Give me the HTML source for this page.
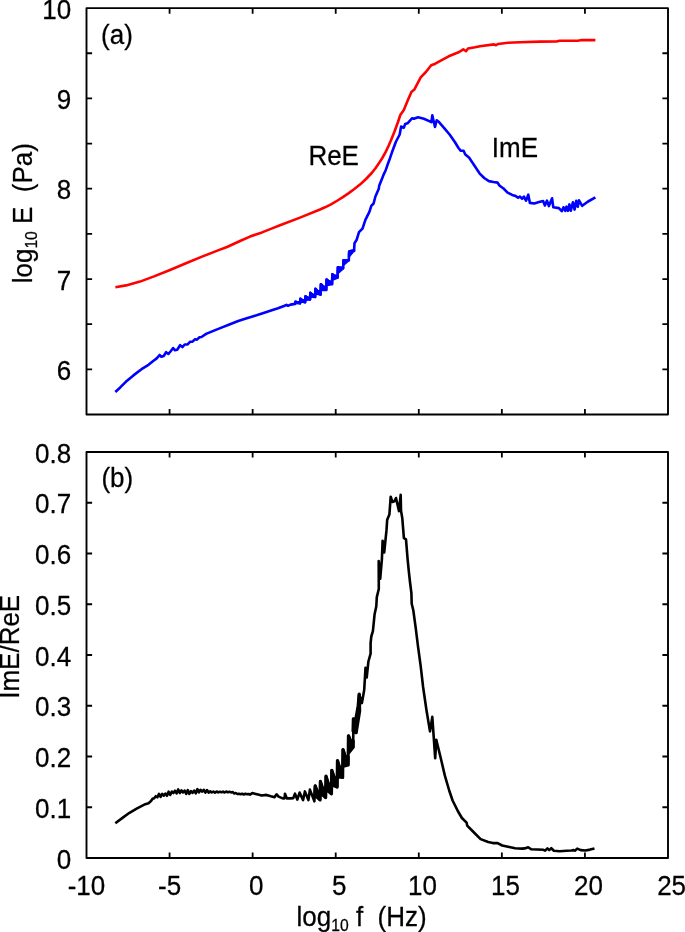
<!DOCTYPE html>
<html><head><meta charset="utf-8"><title>Viscoelastic modulus</title>
<style>
html,body{margin:0;padding:0;background:#fff;}
body{width:685px;height:932px;overflow:hidden;}
svg{display:block;}
text{font-family:"Liberation Sans",Arial,Helvetica,sans-serif;font-size:26px;fill:#000;stroke:#000;stroke-width:0.25px;}
.ax{fill:none;stroke:#000;stroke-width:1.9;stroke-linejoin:round;}
.tk{stroke:#000;stroke-width:1.8;fill:none;}
.sub{font-size:15.7px;}
.cv{fill:none;stroke-width:2.6;stroke-linejoin:round;stroke-linecap:butt;}
</style></head><body>
<svg width="685" height="932" viewBox="0 0 685 932">
<rect width="685" height="932" fill="#fff"/>
<path class="tk" d="M169.57 8.1v5.6M169.57 414.5v-5.6M169.57 452.0v5.6M169.57 858.0v-5.6M252.64 8.1v5.6M252.64 414.5v-5.6M252.64 452.0v5.6M252.64 858.0v-5.6M335.71 8.1v5.6M335.71 414.5v-5.6M335.71 452.0v5.6M335.71 858.0v-5.6M418.79 8.1v5.6M418.79 414.5v-5.6M418.79 452.0v5.6M418.79 858.0v-5.6M501.86 8.1v5.6M501.86 414.5v-5.6M501.86 452.0v5.6M501.86 858.0v-5.6M584.93 8.1v5.6M584.93 414.5v-5.6M584.93 452.0v5.6M584.93 858.0v-5.6M86.5 369.34h5.6M668.0 369.34h-5.6M86.5 324.19h5.6M668.0 324.19h-5.6M86.5 279.03h5.6M668.0 279.03h-5.6M86.5 233.88h5.6M668.0 233.88h-5.6M86.5 188.72h5.6M668.0 188.72h-5.6M86.5 143.57h5.6M668.0 143.57h-5.6M86.5 98.41h5.6M668.0 98.41h-5.6M86.5 53.26h5.6M668.0 53.26h-5.6M86.5 807.25h5.6M668.0 807.25h-5.6M86.5 756.50h5.6M668.0 756.50h-5.6M86.5 705.75h5.6M668.0 705.75h-5.6M86.5 655.00h5.6M668.0 655.00h-5.6M86.5 604.25h5.6M668.0 604.25h-5.6M86.5 553.50h5.6M668.0 553.50h-5.6M86.5 502.75h5.6M668.0 502.75h-5.6"/>
<rect class="ax" x="86.5" y="8.1" width="581.5" height="406.4"/>
<rect class="ax" x="86.5" y="452.0" width="581.5" height="406.0"/>
<text transform="translate(71.20 380.04) scale(1 1.06)" text-anchor="end">6</text>
<text transform="translate(71.20 289.73) scale(1 1.06)" text-anchor="end">7</text>
<text transform="translate(71.20 199.42) scale(1 1.06)" text-anchor="end">8</text>
<text transform="translate(71.20 109.11) scale(1 1.06)" text-anchor="end">9</text>
<text transform="translate(71.20 18.80) scale(1 1.06)" text-anchor="end">10</text>
<text transform="translate(71.20 868.70) scale(1 1.06)" text-anchor="end">0</text>
<text transform="translate(71.20 817.95) scale(1 1.06)" text-anchor="end">0.1</text>
<text transform="translate(71.20 767.20) scale(1 1.06)" text-anchor="end">0.2</text>
<text transform="translate(71.20 716.45) scale(1 1.06)" text-anchor="end">0.3</text>
<text transform="translate(71.20 665.70) scale(1 1.06)" text-anchor="end">0.4</text>
<text transform="translate(71.20 614.95) scale(1 1.06)" text-anchor="end">0.5</text>
<text transform="translate(71.20 564.20) scale(1 1.06)" text-anchor="end">0.6</text>
<text transform="translate(71.20 513.45) scale(1 1.06)" text-anchor="end">0.7</text>
<text transform="translate(71.20 462.70) scale(1 1.06)" text-anchor="end">0.8</text>
<text transform="translate(86.50 895.20) scale(1 1.06)" text-anchor="middle">-10</text>
<text transform="translate(169.57 895.20) scale(1 1.06)" text-anchor="middle">-5</text>
<text transform="translate(256.24 895.20) scale(1 1.06)" text-anchor="middle">0</text>
<text transform="translate(339.31 895.20) scale(1 1.06)" text-anchor="middle">5</text>
<text transform="translate(422.39 895.20) scale(1 1.06)" text-anchor="middle">10</text>
<text transform="translate(505.46 895.20) scale(1 1.06)" text-anchor="middle">15</text>
<text transform="translate(588.53 895.20) scale(1 1.06)" text-anchor="middle">20</text>
<text transform="translate(671.60 895.20) scale(1 1.06)" text-anchor="middle">25</text>
<text transform="translate(296.60 925.70) scale(1 1.06)">log<tspan class="sub" dy="5.28">10</tspan><tspan dy="-5.28" dx="7.2">f</tspan><tspan dx="14.4">(Hz)</tspan></text>
<text transform="translate(31.60 283.30) rotate(-90) scale(1 1.06)">log<tspan class="sub" dy="5.28">10</tspan><tspan dy="-5.28" dx="7.2">E</tspan><tspan dx="14.4">(Pa)</tspan></text>
<text transform="translate(18.80 698.80) rotate(-90) scale(1 1.06)">ImE/ReE</text>
<text transform="translate(101.10 44.10) scale(1 1.06)">(a)</text>
<text transform="translate(101.40 486.50) scale(1 1.06)">(b)</text>
<text transform="translate(308.40 164.70) scale(1 1.06)">ReE</text>
<text transform="translate(491.80 157.20) scale(1 1.06)">ImE</text>
<path class="cv" stroke="#0000ff" d="M115.3 392.0 L120.5 387.2 L125.8 381.8 L133.4 375.4 L141.5 369.2 L148.5 364.8 L153.2 361.0 L156.7 358.4 L159.6 355.0 L161.3 356.8 L163.7 356.0 L166.1 352.2 L168.4 354.0 L170.5 351.5 L173.1 348.0 L175.0 350.3 L177.2 349.8 L180.1 345.2 L182.4 347.1 L184.7 344.5 L187.6 344.4 L190.0 341.8 L192.5 341.6 L195.0 339.3 L197.0 339.6 L199.5 337.3 L201.5 337.0 L206.1 333.9 L214.0 330.6 L222.1 327.4 L230.0 324.2 L238.2 321.0 L246.0 318.5 L254.2 316.0 L262.0 313.5 L270.3 310.8 L278.0 308.3 L284.0 306.0 L286.5 304.8 L288.0 305.8 L290.5 304.6 L295.1 303.9 L295.5 301.7 L300.0 303.3 L300.4 298.8 L305.1 302.2 L305.5 296.4 L310.0 299.4 L310.4 292.9 L315.1 296.9 L315.5 288.8 L320.5 294.6 L320.9 284.2 L326.2 289.9 L326.6 279.6 L332.0 284.1 L332.4 274.3 L337.5 277.6 L337.9 267.2 L343.1 268.3 L343.5 260.4 L348.8 260.1 L349.2 251.5 L354.1 250.2 L354.5 243.3 L356.7 239.7 L359.0 232.2 L362.5 228.6 L365.4 219.9 L369.5 211.7 L371.3 205.9 L373.6 203.5 L375.4 196.5 L378.9 188.4 L379.1 186.0 L382.4 177.8 L383.5 174.9 L385.9 169.7 L388.0 163.5 L390.0 158.2 L391.8 152.8 L395.8 142.0 L399.7 134.5 L401.1 126.5 L403.8 127.8 L405.2 124.0 L407.5 123.3 L412.2 118.2 L413.9 118.8 L418.0 117.3 L423.9 118.7 L430.3 121.6 L431.4 122.2 L432.3 115.4 L433.8 122.0 L435.0 126.9 L436.7 120.3 L439.0 122.1 L444.0 127.8 L449.6 134.5 L455.0 142.3 L458.5 148.0 L460.6 150.6 L463.6 150.8 L465.3 154.5 L469.0 157.5 L473.7 164.5 L479.5 173.3 L484.2 178.0 L488.9 181.1 L493.5 182.0 L497.6 182.6 L499.4 185.5 L503.5 188.5 L507.6 192.6 L512.2 194.9 L515.7 196.1 L518.1 197.8 L519.8 196.6 L522.2 198.7 L523.9 196.6 L526.0 200.7 L528.3 194.7 L529.9 202.9 L534.3 203.5 L539.0 202.0 L543.1 201.1 L544.9 205.5 L547.0 200.6 L548.9 206.1 L552.1 198.3 L553.3 207.3 L558.9 208.1 L561.8 211.2 L563.5 207.3 L565.3 210.8 L566.5 206.7 L568.0 210.8 L569.4 204.4 L570.8 210.8 L572.9 202.3 L574.6 209.6 L576.2 200.9 L577.8 206.7 L579.0 200.3 L582.2 205.8 L588.1 201.5 L595.4 197.4"/>
<path class="cv" stroke="#ff0000" d="M115.4 287.3 L126.0 285.4 L140.0 281.6 L154.0 276.4 L170.0 270.0 L186.0 263.2 L202.0 256.6 L218.0 250.4 L227.0 247.0 L240.0 241.0 L250.0 236.6 L262.0 232.4 L274.0 227.6 L280.0 225.2 L300.0 217.6 L320.0 209.5 L325.0 207.3 L331.0 204.4 L336.7 201.0 L342.5 197.4 L348.4 193.4 L354.0 189.3 L360.0 184.6 L366.0 179.0 L371.7 173.0 L375.3 168.5 L378.7 163.6 L382.3 158.0 L385.7 151.9 L388.5 146.0 L391.0 140.3 L394.5 131.5 L398.0 122.0 L400.3 115.0 L403.8 110.0 L407.5 101.0 L411.4 92.0 L414.3 89.6 L420.7 77.4 L425.9 72.0 L431.2 65.2 L435.3 63.7 L441.7 60.2 L448.7 56.3 L459.2 52.0 L463.3 49.3 L466.0 51.2 L468.0 48.5 L475.0 47.3 L480.0 46.3 L494.0 44.4 L496.0 45.2 L498.0 44.0 L508.0 42.8 L520.0 42.2 L540.0 41.6 L556.5 41.5 L559.5 40.8 L578.0 40.8 L581.5 40.1 L595.4 40.1"/>
<path class="cv" stroke="#000000" d="M115.3 823.3 L122.8 817.6 L129.5 812.8 L137.1 808.3 L145.3 804.2 L148.5 803.2 L151.0 801.1 L152.6 798.8 L154.2 798.2 L155.8 796.2 L157.4 797.3 L159.0 793.9 L160.6 797.0 L162.2 793.9 L163.8 795.7 L165.4 793.5 L167.0 795.8 L168.6 791.7 L170.2 795.0 L171.8 791.6 L173.4 793.0 L175.0 790.7 L176.6 793.4 L178.2 789.4 L179.8 793.1 L181.4 790.3 L183.0 792.5 L184.6 790.6 L186.2 793.9 L187.8 790.1 L189.4 793.9 L191.0 791.1 L192.6 792.9 L194.2 790.5 L195.8 793.3 L197.4 789.2 L199.0 792.4 L200.6 789.8 L202.2 791.6 L203.8 789.8 L205.4 792.6 L207.0 790.0 L208.6 792.6 L210.2 791.4 L211.8 792.4 L213.4 791.6 L215.0 792.6 L216.6 791.5 L218.2 792.4 L219.8 791.8 L221.4 792.2 L223.0 791.6 L224.6 792.5 L226.2 791.5 L227.8 792.3 L229.4 791.8 L231.0 792.4 L232.6 792.0 L234.2 793.4 L235.8 793.0 L237.4 794.0 L239.0 793.8 L240.6 794.3 L242.2 793.8 L243.8 794.5 L245.4 793.8 L247.0 794.3 L248.6 794.0 L250.0 794.6 L252.3 793.1 L257.0 794.3 L261.7 795.5 L266.4 794.9 L271.0 796.3 L274.5 797.2 L276.6 794.3 L278.6 796.6 L282.7 798.4 L284.5 798.4 L285.0 793.7 L286.8 798.4 L290.9 798.4 L293.2 798.2 L295.0 793.7 L297.3 799.6 L299.6 792.6 L303.1 800.1 L304.9 791.4 L308.4 800.1 L309.9 789.6 L314.4 801.3 L315.2 785.8 L320.0 799.9 L320.4 781.5 L325.6 797.5 L326.0 776.2 L331.4 793.8 L331.8 770.3 L337.1 787.0 L337.5 760.7 L342.6 777.4 L343.0 749.6 L348.1 764.9 L348.5 735.8 L353.1 747.2 L353.5 718.9 L356.1 732.7 L357.6 716.0 L359.2 694.2 L361.9 703.1 L364.2 690.0 L364.8 679.9 L365.5 667.7 L366.7 677.5 L368.4 661.5 L370.6 653.6 L370.6 643.1 L371.3 636.5 L372.9 631.2 L374.6 614.2 L376.3 606.3 L376.8 597.1 L378.8 589.0 L378.7 561.1 L380.2 578.8 L381.9 559.1 L382.6 540.7 L384.2 552.5 L386.5 530.2 L387.2 519.7 L389.4 514.4 L390.7 496.7 L392.4 501.9 L394.4 501.3 L396.0 498.0 L399.0 511.1 L400.7 494.7 L401.0 510.5 L402.3 518.4 L403.9 538.1 L406.0 539.4 L407.6 559.1 L408.9 572.2 L410.0 582.0 L411.4 593.1 L411.7 603.7 L413.3 610.2 L415.8 628.6 L417.9 645.7 L420.6 665.4 L423.1 687.0 L426.4 709.7 L430.0 731.4 L432.3 716.9 L435.2 758.1 L436.3 739.9 L440.2 755.7 L444.8 775.4 L449.2 790.5 L452.6 800.5 L457.8 811.0 L461.9 818.0 L466.6 822.7 L467.2 825.6 L473.0 831.5 L480.6 839.1 L488.2 842.0 L492.9 843.1 L497.6 843.1 L502.2 845.5 L509.2 846.9 L515.1 848.2 L522.1 848.6 L524.7 848.4 L528.2 847.2 L531.1 849.3 L543.4 849.8 L545.1 850.7 L547.4 848.4 L549.2 850.1 L551.3 848.2 L553.9 850.7 L559.7 851.3 L566.7 850.7 L571.4 850.5 L573.7 850.1 L574.9 850.7 L577.2 848.6 L580.7 850.1 L585.4 850.5 L590.1 849.6 L594.5 848.4"/>
<path fill="#0000ff" stroke="#0000ff" stroke-width="2.6" stroke-linejoin="round" d="M295.3 302.9 L295.5 301.7 L297.5 302.4 L300.1 302.4 L300.0 303.3ZM300.2 301.3 L300.4 298.8 L302.5 300.3 L305.2 300.3 L305.1 302.2ZM305.3 299.6 L305.5 296.4 L307.5 297.8 L310.1 297.8 L310.0 299.4ZM310.2 296.5 L310.4 292.9 L312.5 294.7 L315.2 294.7 L315.1 296.9ZM315.3 293.3 L315.5 288.8 L317.8 291.4 L320.6 291.4 L320.5 294.6ZM320.7 289.9 L320.9 284.2 L323.3 286.8 L326.3 286.8 L326.2 289.9ZM326.4 285.3 L326.6 279.6 L329.0 281.6 L332.1 281.6 L332.0 284.1ZM332.2 279.7 L332.4 274.3 L334.7 275.8 L337.6 275.8 L337.5 277.6ZM337.7 272.9 L337.9 267.2 L340.2 267.7 L343.1 267.7 L343.1 268.3ZM343.3 264.7 L343.5 260.4 L345.9 260.3 L348.8 260.3 L348.8 260.1ZM349.0 256.2 L349.2 251.5 L351.4 250.9 L354.1 250.9 L354.1 250.2Z"/>
<path fill="#000000" stroke="#000000" stroke-width="3.3" stroke-linejoin="round" d="M314.7 795.1 L315.2 785.8 L317.4 792.1 L320.2 792.1 L320.0 799.9ZM320.2 792.5 L320.4 781.5 L322.7 788.7 L325.8 788.7 L325.6 797.5ZM325.8 789.0 L326.0 776.2 L328.4 784.1 L331.6 784.1 L331.4 793.8ZM331.6 784.4 L331.8 770.3 L334.2 777.8 L337.2 777.8 L337.1 787.0ZM337.3 776.5 L337.5 760.7 L339.8 768.2 L342.7 768.2 L342.6 777.4ZM342.8 766.3 L343.0 749.6 L345.3 756.5 L348.2 756.5 L348.1 764.9ZM348.3 753.3 L348.5 735.8 L350.6 740.9 L353.2 740.9 L353.1 747.2ZM353.1 731.0 L353.4 718.9 L354.7 725.5 L358.2 706.0 L359.2 694.2 L359.6 711.0 L356.1 732.7Z"/>
</svg>
</body></html>
